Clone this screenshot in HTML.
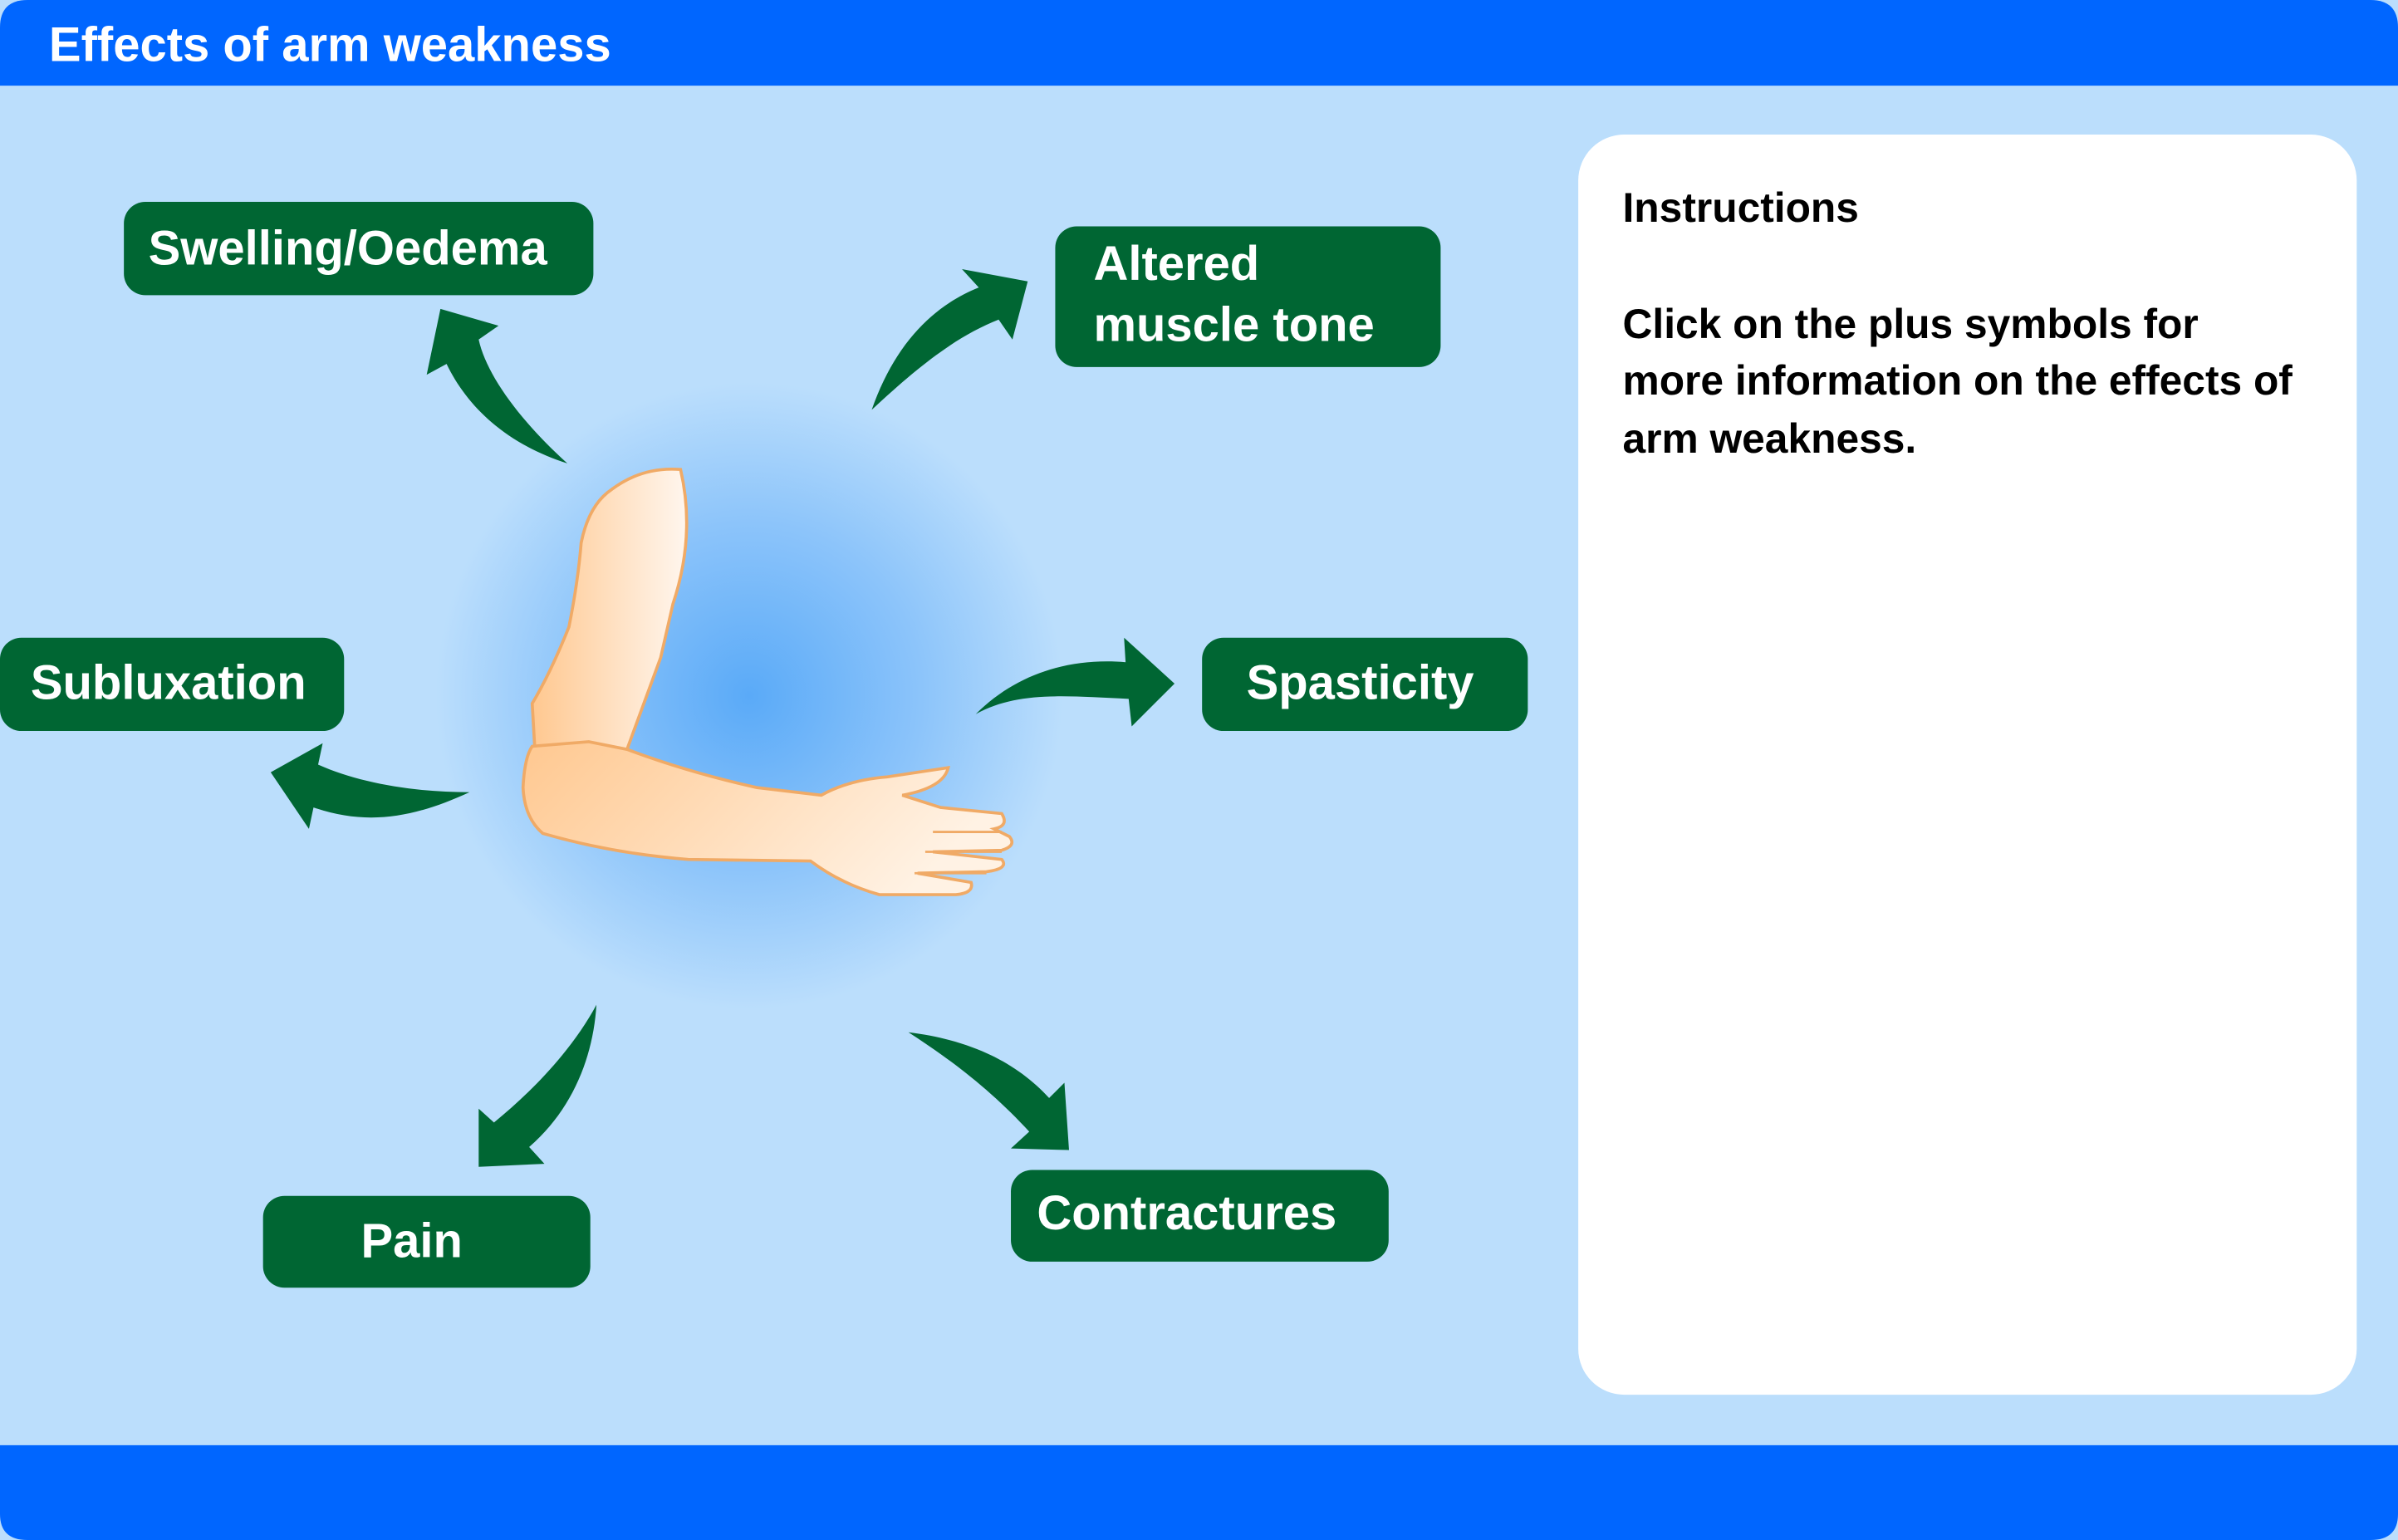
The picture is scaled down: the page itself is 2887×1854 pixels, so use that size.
<!DOCTYPE html>
<html><head><meta charset="utf-8"><style>
html,body{margin:0;padding:0;background:#bbdefc;}
svg{display:block;}
</style></head><body>
<svg width="2887" height="1854" viewBox="0 0 1568 1007" preserveAspectRatio="none" xmlns="http://www.w3.org/2000/svg">
<defs>
<radialGradient id="glow" cx="490" cy="455" r="205" gradientUnits="userSpaceOnUse">
<stop offset="0" stop-color="#5aaaf8"/><stop offset="0.55" stop-color="#8cc4fa"/><stop offset="1" stop-color="#bbdefc"/>
</radialGradient>
<linearGradient id="skin" x1="0" y1="0" x2="1" y2="0">
<stop offset="0" stop-color="#ffc890"/><stop offset="1" stop-color="#fff6ee"/>
</linearGradient>
<linearGradient id="skin2" x1="0" y1="0" x2="1" y2="0.3">
<stop offset="0" stop-color="#ffc890"/><stop offset="1" stop-color="#fff2e4"/>
</linearGradient>
</defs>
<rect width="1568" height="1007" fill="#bbdefc"/>
<path d="M0,56 L0,18 Q0,0 18,0 L1550,0 Q1568,0 1568,18 L1568,56 Z" fill="#0066ff"/>
<text x="32" y="40" font-family="Liberation Sans, sans-serif" font-weight="bold" font-size="31.5" fill="#fff">Effects of arm weakness</text>
<path d="M0,945 L1568,945 L1568,990 Q1568,1007 1550,1007 L18,1007 Q0,1007 0,990 Z" fill="#0066ff"/>
<rect x="1032" y="88" width="509" height="824" rx="30" fill="#fff"/>
<g font-family="Liberation Sans, sans-serif" font-weight="bold" font-size="27" fill="#000">
<text x="1061" y="145">Instructions</text>
<text x="1061" y="221">Click on the plus symbols for</text>
<text x="1061" y="258">more information on the effects of</text>
<text x="1061" y="296">arm weakness.</text>
</g>
<circle cx="490" cy="455" r="205" fill="url(#glow)"/>
<g fill="#006633">
<rect x="81" y="132" width="307" height="61" rx="14"/>
<rect x="690" y="148" width="252" height="92" rx="14"/>
<rect x="0" y="417" width="225" height="61" rx="14"/>
<rect x="786" y="417" width="213" height="61" rx="14"/>
<rect x="172" y="782" width="214" height="60" rx="14"/>
<rect x="661" y="765" width="247" height="60" rx="14"/>
<path d="M371,303 C330,290 305,265 292,238 L279,245 L288,202 L326,213 L313,222 C318,245 340,275 371,303 Z"/>
<path d="M570,268 C585,225 610,200 640,188 L629,176 L672,184 L662,222 L653,209 C625,220 600,240 570,268 Z"/>
<path d="M638,467 C665,452 695,455 738,457 L740,475 L768,447 L735,417 L736,433 C700,430 665,440 638,467 Z"/>
<path d="M307,518 C270,535 240,540 205,528 L202,542 L177,505 L211,486 L208,500 C235,512 270,518 307,518 Z"/>
<path d="M390,657 C388,690 375,725 346,750 L356,761 L313,763 L313,725 L323,734 C350,712 375,685 390,657 Z"/>
<path d="M594,675 C635,680 665,695 686,718 L696,708 L699,752 L661,751 L673,740 C650,715 625,695 594,675 Z"/>
</g>
<g font-family="Liberation Sans, sans-serif" font-weight="bold" font-size="31.5" fill="#fff">
<text x="97" y="173">Swelling/Oedema</text>
<text x="715" y="183">Altered</text>
<text x="715" y="223">muscle tone</text>
<text x="20" y="457">Subluxation</text>
<text x="815" y="457">Spasticity</text>
<text x="236" y="822">Pain</text>
<text x="678" y="804">Contractures</text>
</g>
<g stroke="#f0aa66" stroke-width="2">
<path d="M400,320 Q420,305 445,307 Q455,350 440,395 L432,430 L410,490 L350,495 L348,460 Q360,440 372,410 Q378,380 380,355 Q385,330 400,320 Z" fill="url(#skin)"/>
<path d="M348,488 L385,485 L410,490 Q450,505 495,515 L537,520 Q555,510 580,508 L620,502 Q617,515 590,520 L615,528 L655,532 Q660,540 650,542 L660,547 Q665,553 655,556 L610,557 L655,562 Q660,568 645,570 L600,571 L635,577 Q637,584 625,585 L575,585 Q550,578 530,563 L450,562 Q400,558 355,545 Q343,535 342,515 Q343,495 348,488 Z" fill="url(#skin2)"/>
<path d="M610,544 L655,544 M605,557 L655,557 M598,571 L645,571" fill="none" stroke-width="1.5"/>
</g>
</svg>
</body></html>
